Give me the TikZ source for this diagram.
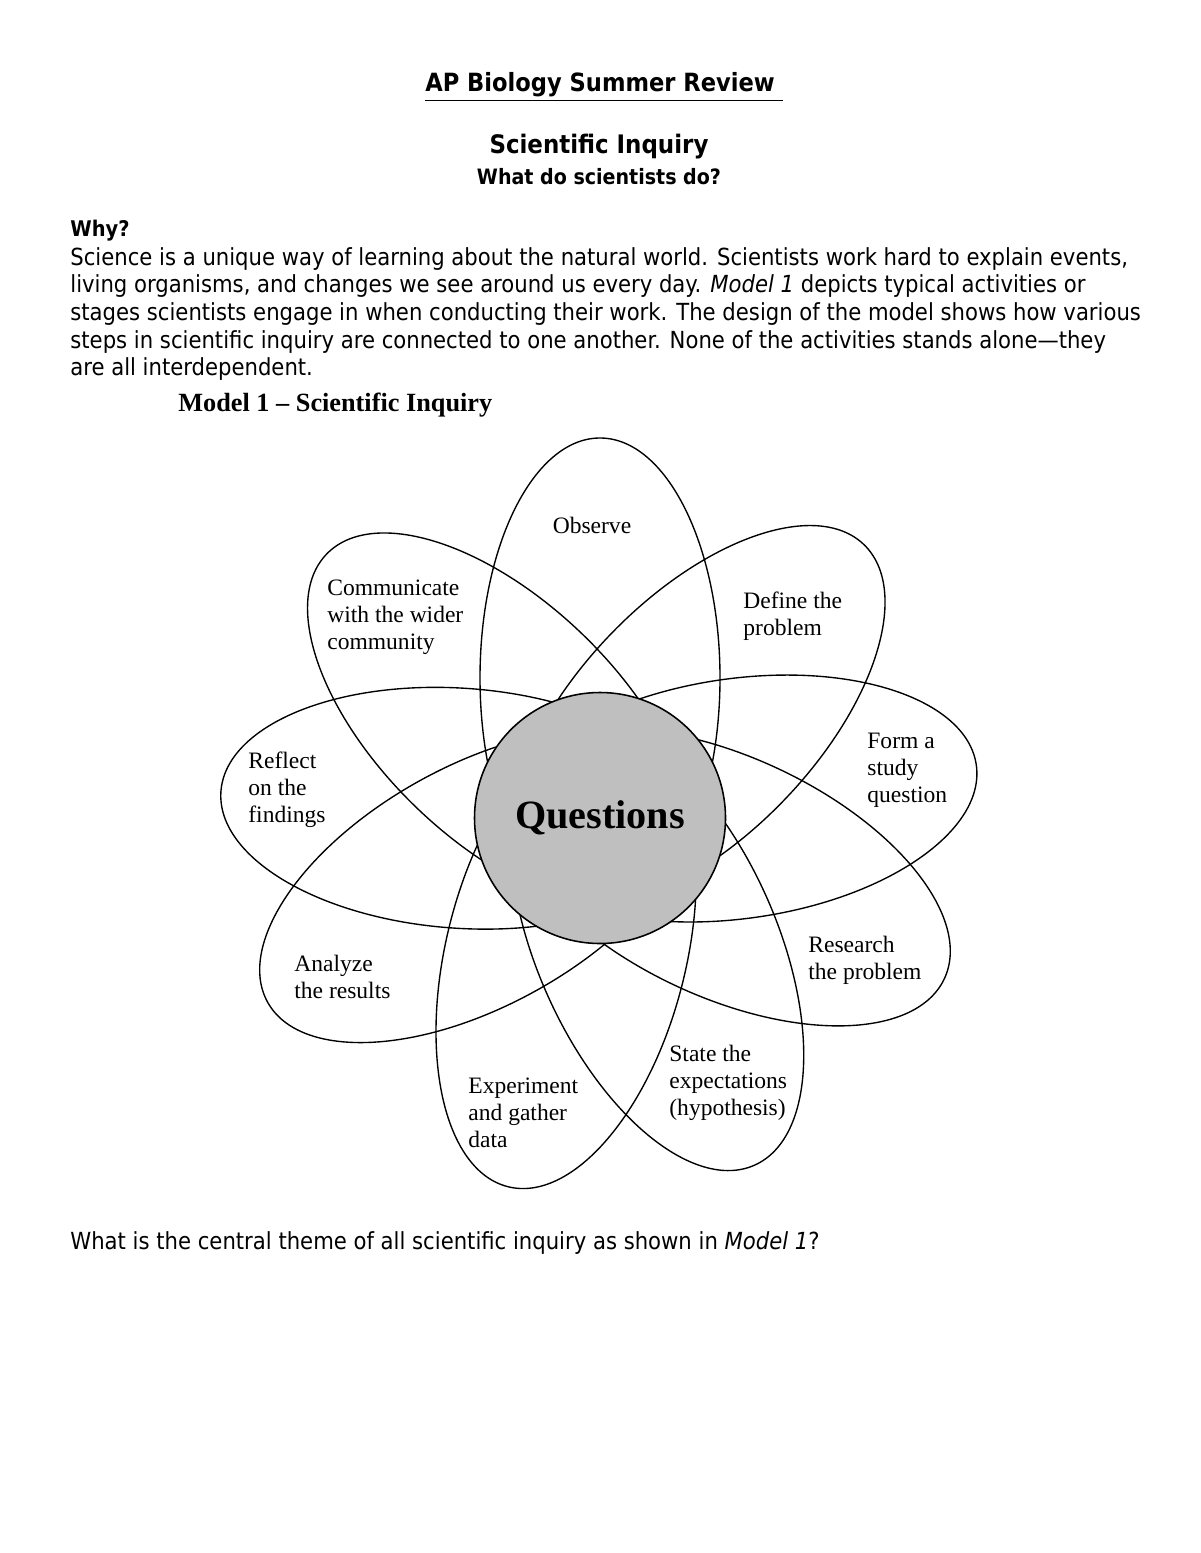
\documentclass[tikz,border=0pt]{standalone}
\usepackage{fontspec}
\setmainfont{DejaVu Sans Condensed}[
  BoldFont={DejaVu Sans Condensed Bold},
  ItalicFont={DejaVu Sans Condensed Oblique},
  BoldItalicFont={DejaVu Sans Condensed Bold Oblique}]
\newfontfamily\petalfont{Liberation Serif}
\usetikzlibrary{positioning}

\begin{document}
\begin{tikzpicture}[
    x=0.51pt, y=-0.51pt,
    body/.style={font=\fontsize{12}{14.1}\selectfont, align=left, inner sep=0pt},
    heading/.style={font=\bfseries\fontsize{10.8}{13}\selectfont, inner sep=0pt},
    petal/.style={draw, line width=0.7pt},
    stage/.style={font=\petalfont\fontsize{12}{13.8}\selectfont, align=left, inner sep=0pt, anchor=west},
    hub/.style={circle, draw, fill=black!25, line width=0.8pt, minimum size=128pt, inner sep=0pt, font=\petalfont\bfseries\fontsize{20.5}{24}\selectfont}
]
\fill[white] (0,0) rectangle (1200,1553);
\useasboundingbox (0,0) rectangle (1200,1553);

% header and introduction
\node[heading, font=\bfseries\fontsize{12.8}{15}\selectfont] (title) at (604,87) {\underline{AP Biology Summer Review\ }};
\node[heading, font=\bfseries\fontsize{13}{15}\selectfont] (topic) at (599,147) {Scientific Inquiry};
\node[heading] (ask) at (599,177) {What do scientists do?};
\node[heading, anchor=west, font=\bfseries\fontsize{11}{13}\selectfont] (why) at (70,231) {Why?};
\node[body, anchor=north west] (intro) at (70,247) {Science is a unique way of learning about the natural world. Scientists work hard to explain events,\\
living organisms, and changes we see around us every day. \textit{Model 1} depicts typical activities or\\
stages scientists engage in when conducting their work. The design of the model shows how various\\
steps in scientific inquiry are connected to one another. None of the activities stands alone—they\\
are all interdependent.};
\node[font=\petalfont\bfseries\fontsize{13.4}{16}\selectfont, anchor=west, inner sep=0pt] (model) at (178,405) {Model 1 – Scientific Inquiry};

% petals round the hub
\coordinate (c) at (600,818);
\foreach \ang in {90,46,8,-25,-66,-104,-151,176,136}
  \draw[petal, shift={(600,818)}, rotate=\ang] (140,0) ellipse [x radius=122.4pt, y radius=61.2pt];
\node[hub] (q) at (c) {Questions};

\node[stage, anchor=center] (observe) at (592,525) {Observe};
\node[stage] (define) at (743,616) {Define the\\problem};
\node[stage] (form) at (867,770) {Form a\\study\\question};
\node[stage] (research) at (808,960) {Research\\the problem};
\node[stage] (state) at (669,1083) {State the\\expectations\\(hypothesis)};
\node[stage] (experiment) at (468,1113) {Experiment\\and gather\\data};
\node[stage] (analyze) at (294,977) {Analyze\\the results};
\node[stage] (reflect) at (248,790) {Reflect\\on the\\findings};
\node[stage] (communicate) at (327,617) {Communicate\\with the wider\\community};

% question below the model
\node[body, anchor=west] (theme) at (70,1243) {What is the central theme of all scientific inquiry as shown in \textit{Model 1}?};
\end{tikzpicture}
\end{document}
